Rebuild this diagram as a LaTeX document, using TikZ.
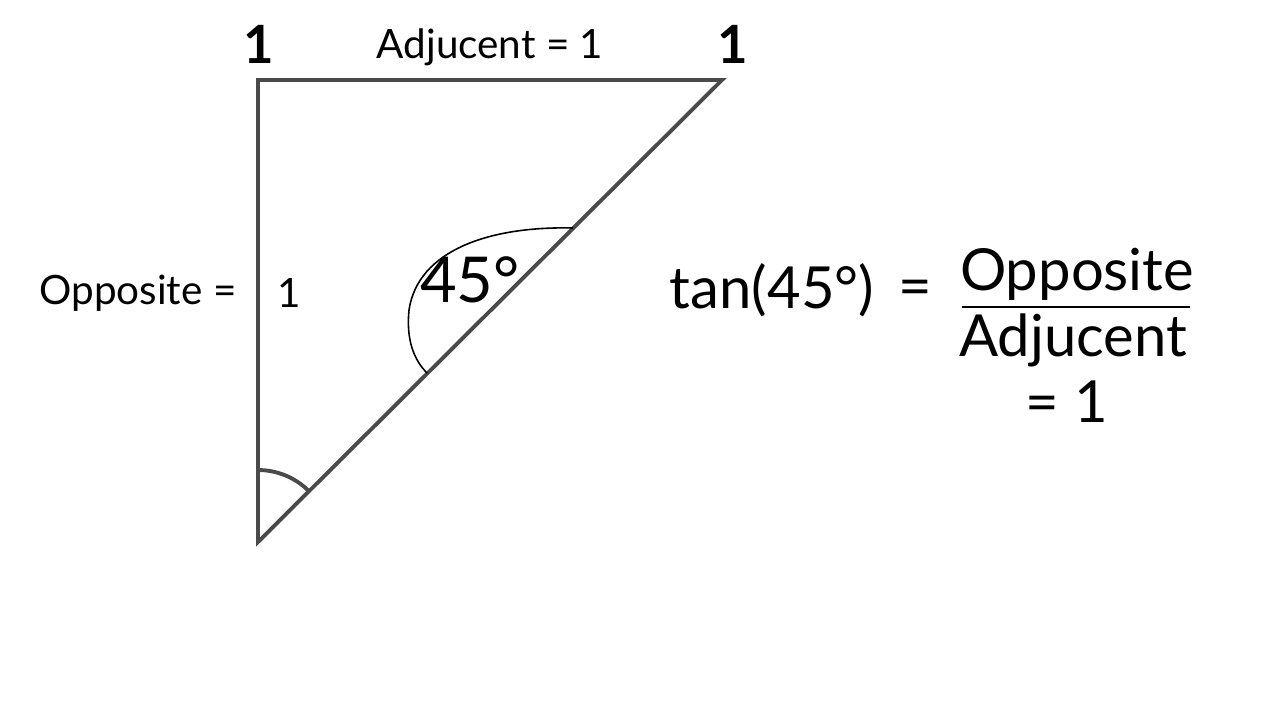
\documentclass[tikz,border=0pt]{standalone}
\usepackage{fontspec}
\setmainfont{Lato}
\definecolor{edgegray}{HTML}{4A4A4A}

\begin{document}
\begin{tikzpicture}[x=0.02cm,y=-0.02cm,
  side/.style={line width=2.2pt,draw=edgegray,line join=miter},
  lbl/.style={font=\fontsize{23}{27}\selectfont,inner sep=0pt},
  corner/.style={font=\bfseries\fontsize{30}{34}\selectfont,inner sep=0pt},
  eqn/.style={font=\fontsize{33}{38}\selectfont,inner sep=0pt}]
\useasboundingbox (0,0) rectangle (1280,720);
\fill[white] (0,0) rectangle (1280,720);

\coordinate (A) at (258,80);
\coordinate (B) at (722,80);
\coordinate (C) at (258,542);
\draw[side] (C) -- (A) -- (B) -- cycle;

\node[corner] (oneA) at (259,44) {1};
\node[corner] (oneB) at (733,44) {1};
\node[lbl] (adj) at (490,47) {Adjucent = 1};
\node[lbl] (opp) at (138,293) {Opposite =};
\node[lbl] (oppval) at (289,293) {1};

% angle marks
\draw[side] (258,470) arc[start angle=-90,end angle=-45,radius=72];
\draw[line width=0.9pt] (573,228) .. controls (490,226) and (418,250) .. (409,310)
  .. controls (406,340) and (414,360) .. (427,373);
\node[eqn,font=\fontsize{36}{40}\selectfont] (ang) at (470,280) {45°};

% tan(45) = Opposite / Adjucent = 1
\node[eqn] (tan) at (772,290) {tan(45°)};
\node[eqn] (eq) at (915,293) {=};
\node[eqn] (num) at (1077,274) {Opposite};
\node[eqn] (den) at (1073,340) {Adjucent};
\node[eqn] (res) at (1067,402) {= 1};
\coordinate (barL) at (962,307);
\coordinate (barR) at (1190,307);
\draw[line width=1.6pt] (barL) -- (barR);
\end{tikzpicture}
\end{document}
